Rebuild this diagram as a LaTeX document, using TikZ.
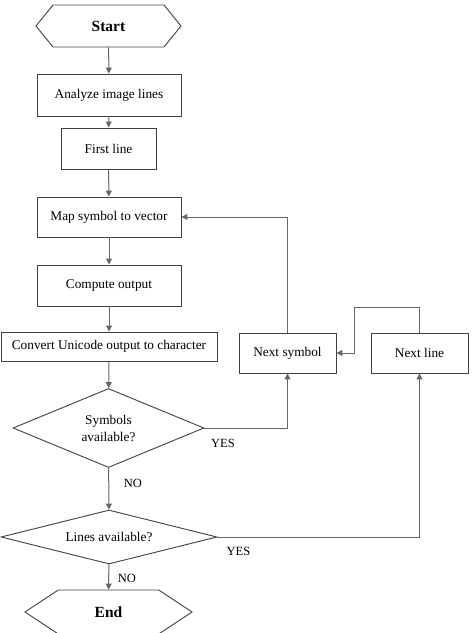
\documentclass[tikz,border=0pt]{standalone}
\usepackage{fontspec}
\setmainfont{Liberation Serif}
\usetikzlibrary{shapes.geometric, shapes.symbols, arrows.meta}

\tikzset{
  box/.style = {draw=black!75, line width=0.9pt, rectangle, inner sep=1pt, font=\fontsize{13.3}{15}\selectfont},
  hexa/.style = {draw=black!75, line width=0.9pt, signal, signal to=west and east, inner sep=0pt, font=\fontsize{15.5}{17}\selectfont\bfseries},
  choice/.style = {draw=black!75, line width=0.9pt, diamond, inner sep=0pt, align=center, font=\fontsize{13.3}{17}\selectfont},
  flow/.style = {draw=black!60, line width=1pt, -{Triangle[length=6pt, width=6pt]}},
  tag/.style = {font=\fontsize{12.5}{14}\selectfont}
}

\begin{document}
\begin{tikzpicture}[x=1pt, y=-1pt]

\useasboundingbox (0,0) rectangle (474,633);

% main column
\node[hexa, minimum width=145pt, minimum height=42pt, signal pointer angle=102] (start) at (108.5,26) {Start};
\node[box, minimum width=144pt, minimum height=42pt] (analyze) at (109,95) {Analyze image lines};
\node[box, minimum width=95pt, minimum height=41pt] (first) at (108.5,148.5) {First line};
\node[box, minimum width=144pt, minimum height=40pt] (map) at (109,217) {Map symbol to vector};
\node[box, minimum width=144pt, minimum height=41pt] (compute) at (109,285.5) {Compute output};
\node[box, minimum width=216pt, minimum height=29pt] (convert) at (109,346.5) {Convert Unicode output to character};
\node[choice, aspect=2.4, minimum width=191pt, minimum height=79pt] (symbols) at (108.5,428) {Symbols\\available?};
\node[choice, aspect=4, minimum width=216pt, minimum height=54pt] (lines) at (109,537) {Lines available?};
\node[hexa, minimum width=167pt, minimum height=44pt, signal pointer angle=67] (end) at (108.5,612) {End};

% loop boxes
\node[box, minimum width=97pt, minimum height=40pt] (nextsym) at (287.5,353) {Next symbol};
\node[box, minimum width=97pt, minimum height=40pt] (nextline) at (419.5,353) {Next line};
\coordinate (turn) at (354,307);

% connectors
\draw[flow] (start) -- (analyze);
\draw[flow] (analyze) -- (first);
\draw[flow] (first) -- (map);
\draw[flow] (map) -- (compute);
\draw[flow] (compute) -- (convert);
\draw[flow] (convert) -- (symbols);
\draw[flow] (symbols) -- (lines);
\draw[flow] (lines) -- (end);
\draw[flow] (symbols.east) -| (nextsym.south);
\draw[flow] (lines.east) -| (nextline.south);
\draw[flow] (nextsym.north) |- (map.east);
\draw[flow] (nextline.north) |- (turn) |- (nextsym.east);

% labels
\node[tag] (yes1) at (223,443) {YES};
\node[tag] (yes2) at (238.5,551) {YES};
\node[tag] (no1) at (133,483) {NO};
\node[tag] (no2) at (127,578) {NO};

\end{tikzpicture}
\end{document}
